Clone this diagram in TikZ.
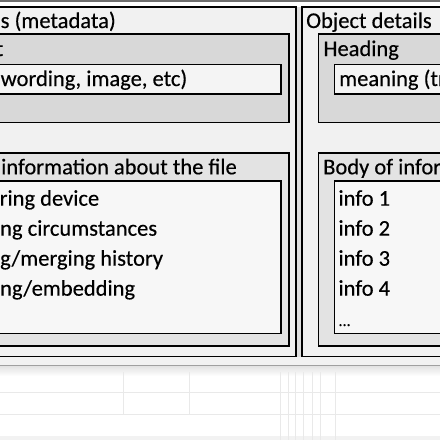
\documentclass[tikz,border=0pt]{standalone}
\usepackage{fontspec}
\setmainfont{Carlito}[FakeBold=0.35]
\definecolor{panelbg}{HTML}{F1F1F1}
\definecolor{uppergray}{HTML}{D8D8D8}
\definecolor{lowergray}{HTML}{E3E3E3}
\definecolor{innerup}{HTML}{F4F4F4}
\definecolor{innerlow}{HTML}{F7F7F7}
\definecolor{band}{HTML}{6E6E6E}
\definecolor{faint}{HTML}{E9E9E9}
\begin{document}
\begin{tikzpicture}[x=1pt,y=-1pt,
  panel/.style={draw=black,line width=1.8pt,fill=panelbg},
  upbox/.style={draw=black,line width=1.8pt,fill=uppergray},
  lowbox/.style={draw=black,line width=1.8pt,fill=lowergray},
  upinner/.style={draw=black,line width=1.8pt,fill=innerup},
  lowinner/.style={draw=black,line width=1.8pt,fill=innerlow},
  faintline/.style={draw=faint,line width=0.8pt},
  txt/.style={anchor=base west,inner sep=0pt,font=\fontsize{22.5}{26}\selectfont}]
\useasboundingbox (0,0) rectangle (440,440);
\clip (0,0) rectangle (440,440);
\fill[white] (0,0) rectangle (440,440);
% top band
\fill[band] (0,0) rectangle (440,2.2);
% area under panels
\fill[panelbg] (0,356) rectangle (440,365);
\shade[top color=gray!25, bottom color=white] (0,365) rectangle (440,376);
\draw[gray!75,line width=1pt] (0,365) -- (440,365);
% faint grid below
\draw[faintline] (0,392) -- (440,392);
\draw[faintline] (0,414) -- (440,414);
\fill[faint!60] (0,436) rectangle (440,440);
\foreach \xx in {123,189} \draw[faintline] (\xx,372) -- (\xx,414);
\foreach \xx in {280,288,295,303,312,320,335} \draw[faintline] (\xx,372) -- (\xx,440);
% gap between panels
\fill[gray!25] (296,6.5) rectangle (302,357);
% panels
\draw[panel] (-5,6.8) rectangle (296.3,356.5);
\draw[panel] (302,6.8) rectangle (445,356.5);
% upper boxes
\draw[upbox] (-5,34) rectangle (289,122.5);
\draw[upinner] (-5,64.5) rectangle (281,94);
\draw[upbox] (318.5,34) rectangle (445,122.5);
\draw[upinner] (334.5,64.5) rectangle (445,94);
% lower boxes
\draw[lowbox] (-5,153) rectangle (289,346);
\draw[lowinner] (-5,181) rectangle (281,333.5);
\draw[lowbox] (318.5,153) rectangle (445,346);
\draw[lowinner] (334.5,181) rectangle (445,333.5);
% texts left
\node[txt] (lt) at (0.5,28) {s (metadata)};
\node[txt,anchor=base east] (lh) at (3.5,56) {t};
\node[txt] (lw) at (0.5,86) {wording, image, etc)};
\node[txt] (li) at (1,174.3) {information about the file};
\node[txt] (l1) at (-0.5,205.7) {ring device};
\node[txt] (l2) at (0,235.7) {ng circumstances};
\node[txt] (l3) at (0,265.7) {g/merging history};
\node[txt] (l4) at (0,295.7) {ng/embedding};
% texts right
\node[txt] (rt) at (306,28) {Object details};
\node[txt] (rh) at (323.3,56) {Heading};
\node[txt] (rm) at (339,86) {meaning (tr};
\node[txt] (rb) at (323,174.3) {Body of infor};
\node[txt] (r1) at (338.3,205.7) {info 1};
\node[txt] (r2) at (338.3,235.7) {info 2};
\node[txt] (r3) at (338.3,265.7) {info 3};
\node[txt] (r4) at (338.3,295.7) {info 4};
\node[txt,font=\fontsize{16}{18}\selectfont] (r5) at (338.3,326) {...};
\end{tikzpicture}
\end{document}
